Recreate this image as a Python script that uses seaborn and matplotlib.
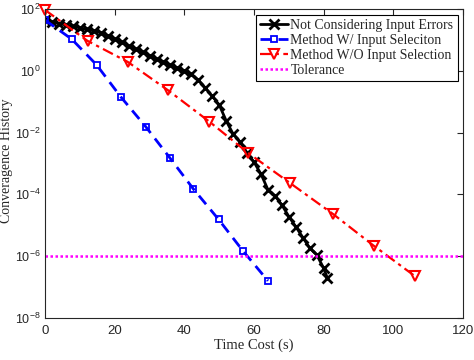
import matplotlib
matplotlib.use("Agg")
import matplotlib.pyplot as plt
import seaborn as sns
import numpy as np
from matplotlib.ticker import FixedLocator, NullLocator, LogFormatterSciNotation

# ---- data ----
black_x = [0, 2, 4, 6, 8, 10, 12, 14, 16, 18, 20, 22, 24, 26, 28, 30, 32, 34, 36, 38, 40,
           42, 44, 46, 48, 50, 52, 54, 56, 58, 60, 62, 64, 66, 68, 70, 72, 74, 76, 78, 80, 81]
black_y = [43.7, 38, 33.9, 30.2, 27.5, 24.5, 21.9, 19.5, 17, 13.8, 10.7, 8.3, 6.3, 5.0, 4.0, 3.1,
           2.4, 1.95, 1.5, 1.23, 1.0, 0.76, 0.5, 0.28, 0.15, 0.079, 0.024, 8.9e-3, 5.0e-3, 2.2e-3,
           1.1e-3, 4.5e-4, 1.4e-4, 8.9e-5, 4.5e-5, 1.9e-5, 8.9e-6, 4.0e-6, 1.8e-6, 1.1e-6, 4.0e-7, 2.0e-7]
blue_x = [0, 7.7, 14.8, 21.7, 28.9, 35.9, 42.6, 49.8, 56.8, 64.0]
blue_y = [43.7, 10.5, 1.55, 0.145, 0.0155, 1.48e-3, 1.48e-4, 1.55e-5, 1.48e-6, 1.58e-7]
red_x = [0, 12.2, 23.7, 35.4, 47.2, 58.4, 70.4, 82.7, 94.3, 106.3]
red_y = [93, 9.3, 1.95, 0.23, 0.0224, 2.14e-3, 2.29e-4, 2.29e-5, 2.19e-6, 2.19e-7]
tol_x = [0, 120]
tol_y = [1e-6, 1e-6]
x_ticks = [0, 20, 40, 60, 80, 100, 120]
y_ticks = [1e-8, 1e-6, 1e-4, 1e-2, 1e0, 1e2]
labels = ["Not Considering Input Errors", "Method W/ Input Seleciton",
          "Method W/O Input Selection", "Tolerance"]

sns.set_style("white")
plt.rcParams["font.family"] = ["Liberation Sans", "DejaVu Sans"]
plt.rcParams["mathtext.fontset"] = "custom"
plt.rcParams["mathtext.rm"] = "Liberation Sans"
plt.rcParams["mathtext.it"] = "Liberation Sans:italic"
plt.rcParams["mathtext.bf"] = "Liberation Sans:bold"

fig = plt.figure(figsize=(4.74, 3.6), dpi=100)
ax = fig.add_axes([0.095, 0.117, 0.882, 0.858])

sns.lineplot(x=black_x, y=black_y, ax=ax, color="black", lw=2, marker="x", markersize=7.5,
             markeredgewidth=2, markeredgecolor="black", estimator=None, sort=False,
             label=labels[0])
sns.lineplot(x=blue_x, y=blue_y, ax=ax, color="#0000ff", lw=2, linestyle=(0, (4, 2.5)), marker="s",
             markersize=5, markerfacecolor="none", markeredgecolor="#0000ff", markeredgewidth=1.3,
             estimator=None, sort=False, label=labels[1])
sns.lineplot(x=red_x, y=red_y, ax=ax, color="#ff0000", lw=1.6, linestyle=(0, (5, 2, 1.5, 2)), marker="v",
             markersize=7, markerfacecolor="none", markeredgecolor="#ff0000", markeredgewidth=1.5,
             estimator=None, sort=False, label=labels[2], clip_on=False)
sns.lineplot(x=tol_x, y=tol_y, ax=ax, color="#ff00ff", lw=1.8, linestyle=(0, (1, 1)),
             estimator=None, sort=False, label=labels[3])

ax.set_yscale("log")
ax.set_xlim(0, 120)
ax.set_ylim(1e-8, 1e2)
ax.xaxis.set_major_locator(FixedLocator(x_ticks))
ax.yaxis.set_major_locator(FixedLocator(y_ticks))
ax.yaxis.set_major_formatter(LogFormatterSciNotation())
ax.yaxis.set_minor_locator(NullLocator())

gray = "#262626"
for s in ax.spines.values():
    s.set_visible(True)
    s.set_color(gray)
    s.set_linewidth(0.8)
ax.tick_params(direction="in", top=True, right=True, length=4, width=0.8, color=gray,
               labelcolor=gray, labelsize=9, which="both")
ax.tick_params(axis="x", pad=5, labelsize=9.5)
ax.tick_params(axis="y", pad=3)

ax.set_xlabel("Time Cost (s)", family="Liberation Serif", fontsize=10.5, color=gray, labelpad=1)
ax.set_ylabel("Converagence History", family="Liberation Serif", fontsize=10, color=gray)
ax.yaxis.set_label_coords(-0.076, 0.51)

leg = ax.legend(loc="upper right", prop={"family": "Liberation Serif", "size": 10},
                frameon=True, fancybox=False, edgecolor="black", framealpha=1,
                handlelength=2.0, handletextpad=0.2, borderpad=0.3, labelspacing=0.15,
                borderaxespad=0.4)
leg.get_frame().set_linewidth(0.8)

fig.savefig("out.png", dpi=100)
